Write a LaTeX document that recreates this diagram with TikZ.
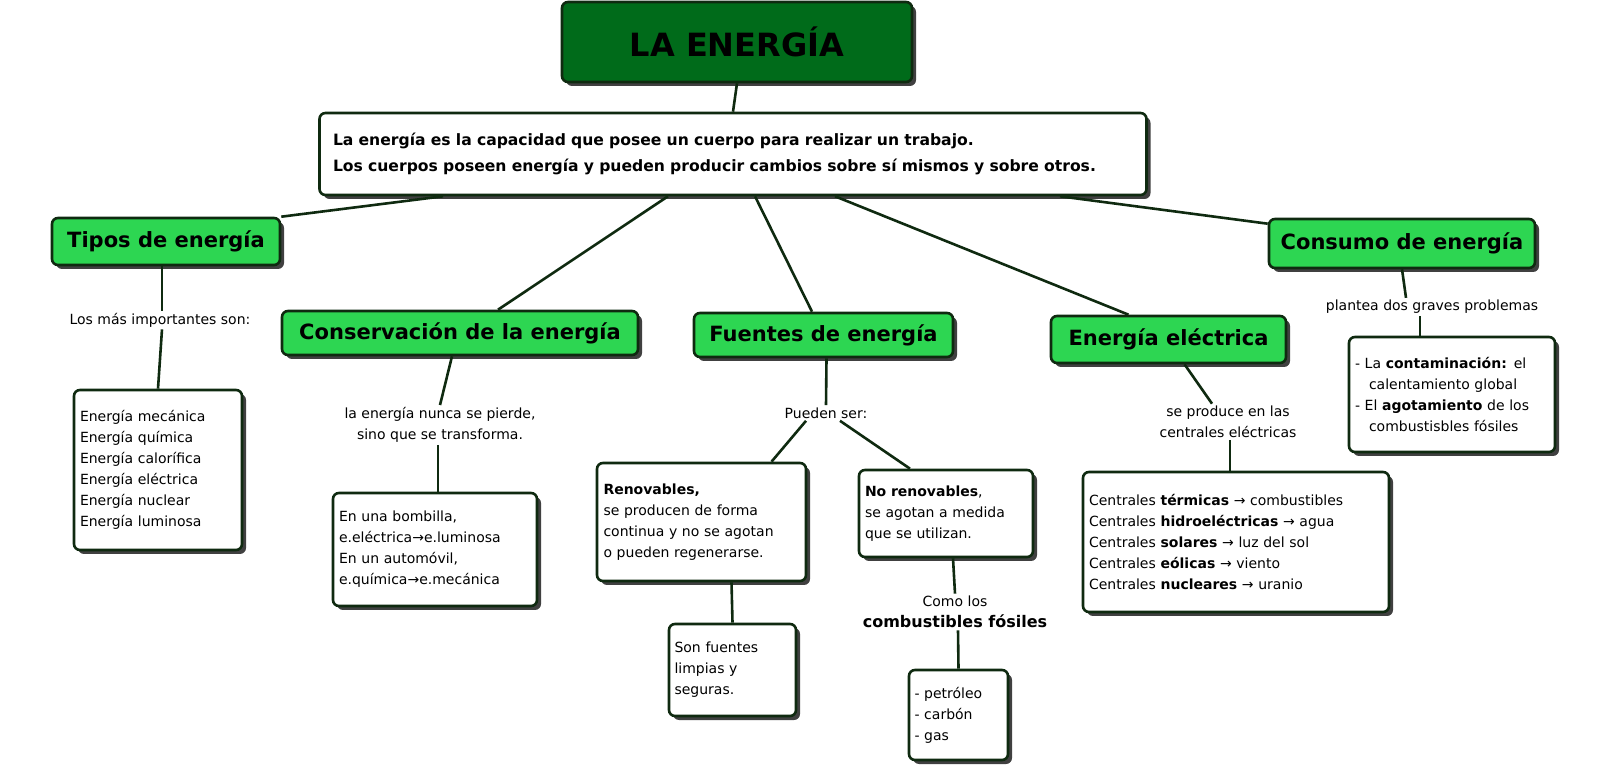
\documentclass[tikz,border=0pt]{standalone}
\usepackage{fontspec}
\setmainfont{DejaVu Sans}
\usetikzlibrary{shadows}
\definecolor{lg}{HTML}{2DD652}
\definecolor{dg}{HTML}{006B1A}
\definecolor{ln}{HTML}{0F2A10}
\begin{document}
\begin{tikzpicture}[x=0.5pt,y=-0.5pt,
 base/.style={draw=ln,line width=1.3pt,rounded corners=3pt,inner sep=2pt,
   drop shadow={shadow xshift=2pt,shadow yshift=-2pt,fill=black!75,opacity=1}},
 head/.style={base,fill=lg,font=\fontsize{10.5}{12}\selectfont\bfseries},
 box/.style={base,fill=white,align=left,font=\fontsize{7}{10.5}\selectfont},
 lbl/.style={inner sep=1pt,align=center,font=\fontsize{7}{10.5}\selectfont},
 con/.style={draw=ln,line width=1.3pt}]
\useasboundingbox (0,0) rectangle (1600,779);
\node[base,fill=dg,minimum width=175pt,minimum height=40pt,font=\fontsize{16}{18}\selectfont\bfseries] (title) at (737,42) {LA ENERGÍA};
\node[box,minimum width=413.5pt,minimum height=41pt,font=\fontsize{7.8}{13}\selectfont\bfseries,text width=400pt] (def) at (733,154) {La energía es la capacidad que posee un cuerpo para realizar un trabajo.\\Los cuerpos poseen energía y pueden producir cambios sobre sí mismos y sobre otros.};
\node[head,minimum width=114pt,minimum height=23.5pt] (tipos) at (166,241.5) {Tipos de energía};
\node[head,minimum width=178pt,minimum height=22pt] (cons) at (460,333) {Conservación de la energía};
\node[head,minimum width=129.5pt,minimum height=22pt] (fuen) at (823.5,335) {Fuentes de energía};
\node[head,minimum width=117.5pt,minimum height=23.5pt] (elec) at (1168.5,339.5) {Energía eléctrica};
\node[head,minimum width=133pt,minimum height=24.5pt] (consu) at (1402,243.5) {Consumo de energía};

\node[lbl] (l1) at (160,320) {Los más importantes son:};
\node[lbl] (l2) at (440,425) {la energía nunca se pierde,\\sino que se transforma.};
\node[lbl] (l3) at (826,413) {Pueden ser:};
\node[lbl] (l4) at (1228,422) {se produce en las\\centrales eléctricas};
\node[lbl] (l5) at (1432,307) {plantea dos graves problemas};
\node[lbl] (l6) at (955,612) {Como los\\{\fontsize{8}{12}\selectfont\bfseries combustibles fósiles}};

\node[box,minimum width=84pt,minimum height=80pt,text width=78pt] (list) at (158,470) {Energía mecánica\\Energía química\\Energía calorífica\\Energía eléctrica\\Energía nuclear\\Energía luminosa};
\node[box,minimum width=102pt,minimum height=56.5pt,text width=96pt] (cb) at (435,549.5) {En una bombilla,\\e.eléctrica→e.luminosa\\En un automóvil,\\e.química→e.mecánica};
\node[box,minimum width=104.5pt,minimum height=59pt,text width=98pt] (ren) at (701.5,522) {\textbf{Renovables,}\\se producen de forma\\continua y no se agotan\\o pueden regenerarse.};
\node[box,minimum width=87pt,minimum height=43.5pt,text width=81pt] (nren) at (946,513.5) {\textbf{No renovables},\\se agotan a medida\\que se utilizan.};
\node[box,minimum width=63.5pt,minimum height=46pt,text width=58pt] (son) at (732.5,670) {Son fuentes\\limpias y\\seguras.};
\node[box,minimum width=49.5pt,minimum height=45pt,text width=44pt] (pet) at (958.5,715) {- petróleo\\- carbón\\- gas};
\node[box,minimum width=153pt,minimum height=70pt,text width=147pt] (cen) at (1236,542) {Centrales \textbf{térmicas} → combustibles\\Centrales \textbf{hidroeléctricas} → agua\\Centrales \textbf{solares} → luz del sol\\Centrales \textbf{eólicas} → viento\\Centrales \textbf{nucleares} → uranio};
\node[box,minimum width=103pt,minimum height=57.5pt,text width=97pt] (prob) at (1452,394.5) {- La \textbf{contaminación:} el\\\hspace*{1em}calentamiento global\\- El \textbf{agotamiento} de los\\\hspace*{1em}combustisbles fósiles};

\begin{scope}[on background layer/.style={}]
\draw[con] (title.south) -- (def.north);
\draw[con] ([xshift=-145pt]def.south) -- (tipos.north east);
\draw[con] ([xshift=-32.5pt]def.south) -- ([xshift=19pt]cons.north);
\draw[con] ([xshift=11pt]def.south) -- ([xshift=-5.75pt]fuen.north);
\draw[con] ([xshift=51pt]def.south) -- ([xshift=-20pt]elec.north);
\draw[con] ([xshift=163.5pt]def.south) -- ([yshift=-3pt]consu.north west);
\draw[con] ([xshift=-2pt]tipos.south) -- ([xshift=1pt]l1.north);
\draw[con] ([xshift=1pt]l1.south) -- (list.north);
\draw[con] ([xshift=-4pt]cons.south) -- (l2.north);
\draw[con] ([xshift=-1pt]l2.south) -- ([xshift=1.5pt]cb.north);
\draw[con] ([xshift=1.5pt]fuen.south) -- (l3.north);
\draw[con] ([xshift=-10pt]l3.south) -- ([xshift=35pt]ren.north);
\draw[con] ([xshift=7pt]l3.south) -- ([xshift=-18pt]nren.north);
\draw[con] ([xshift=15pt]ren.south) -- (son.north);
\draw[con] ([xshift=3.5pt]nren.south) -- (l6.north);
\draw[con] ([xshift=1.5pt]l6.south) -- (pet.north);
\draw[con] ([xshift=8pt]elec.south) -- ([xshift=-8pt]l4.north);
\draw[con] ([xshift=1pt]l4.south) -- ([xshift=-3pt]cen.north);
\draw[con] (consu.south) -- ([xshift=-13pt]l5.north);
\draw[con] ([xshift=-6pt]l5.south) -- ([xshift=-16pt]prob.north);
\end{scope}
\end{tikzpicture}
\end{document}
